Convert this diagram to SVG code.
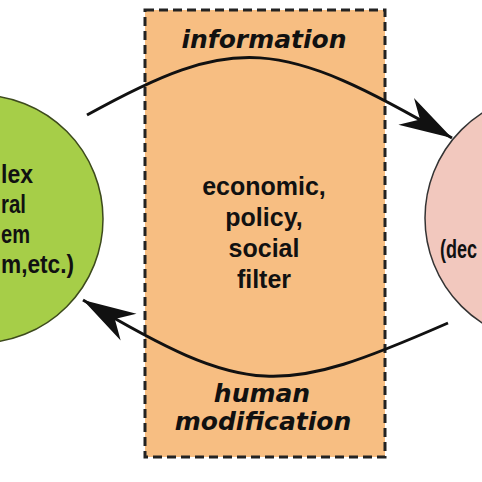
<svg xmlns="http://www.w3.org/2000/svg" width="482" height="482" viewBox="0 0 482 482">
  <style>
    .lbl { font-family: "Liberation Sans", Arial, sans-serif; font-weight: bold; font-size: 25px; fill: #111; }
    .flow { font-family: "DejaVu Sans", Verdana, sans-serif; font-weight: bold; font-style: oblique; font-size: 25px; fill: #111; text-anchor: middle; }
    .conn { fill: none; stroke: #111; stroke-width: 3; }
  </style>
  <defs>
    <marker id="barb" markerUnits="userSpaceOnUse" viewBox="-56 -20 60 40" refX="0" refY="0" markerWidth="60" markerHeight="40" orient="auto">
      <path d="M0,0 L-53,-15.5 L-37,0 L-53,15.5 Z" fill="#111"/>
    </marker>
  </defs>
  <rect width="482" height="482" fill="#ffffff"/>

  <g id="filter-box">
    <rect x="145" y="10" width="240" height="447" fill="#F7BE82" stroke="#222" stroke-width="3" stroke-dasharray="9 5"/>
    <text class="lbl" text-anchor="middle" x="264" y="195">economic,</text>
    <text class="lbl" text-anchor="middle" x="264" y="226">policy,</text>
    <text class="lbl" text-anchor="middle" x="264" y="257">social</text>
    <text class="lbl" text-anchor="middle" x="264" y="288">filter</text>
  </g>

  <g id="natural-system">
    <circle cx="-21" cy="219" r="124" fill="#A6CE48" stroke="#3d4a1c" stroke-width="1.5"/>
    <text class="lbl" x="1" y="183" textLength="32" lengthAdjust="spacingAndGlyphs">lex</text>
    <text class="lbl" x="1" y="213" textLength="25" lengthAdjust="spacingAndGlyphs">ral</text>
    <text class="lbl" x="1" y="243" textLength="29" lengthAdjust="spacingAndGlyphs">em</text>
    <text class="lbl" x="1" y="273" textLength="73" lengthAdjust="spacingAndGlyphs">m,etc.)</text>
  </g>

  <g id="decision-system">
    <circle cx="550" cy="218" r="125" fill="#F2C8BE" stroke="#333" stroke-width="1.5"/>
    <text class="lbl" x="440" y="258" textLength="37" lengthAdjust="spacingAndGlyphs">(dec</text>
  </g>

  <g id="connectors">
    <path class="conn" d="M87,115 C235,33 278.6,37 452,138" marker-end="url(#barb)"/>
    <path class="conn" d="M448,323 C280.3,396.4 249.3,398.7 83,300" marker-end="url(#barb)"/>
  </g>

  <g id="labels">
    <text class="flow" x="264" y="48">information</text>
    <text class="flow" x="262" y="402">human</text>
    <text class="flow" x="263" y="430">modification</text>
  </g>
</svg>
